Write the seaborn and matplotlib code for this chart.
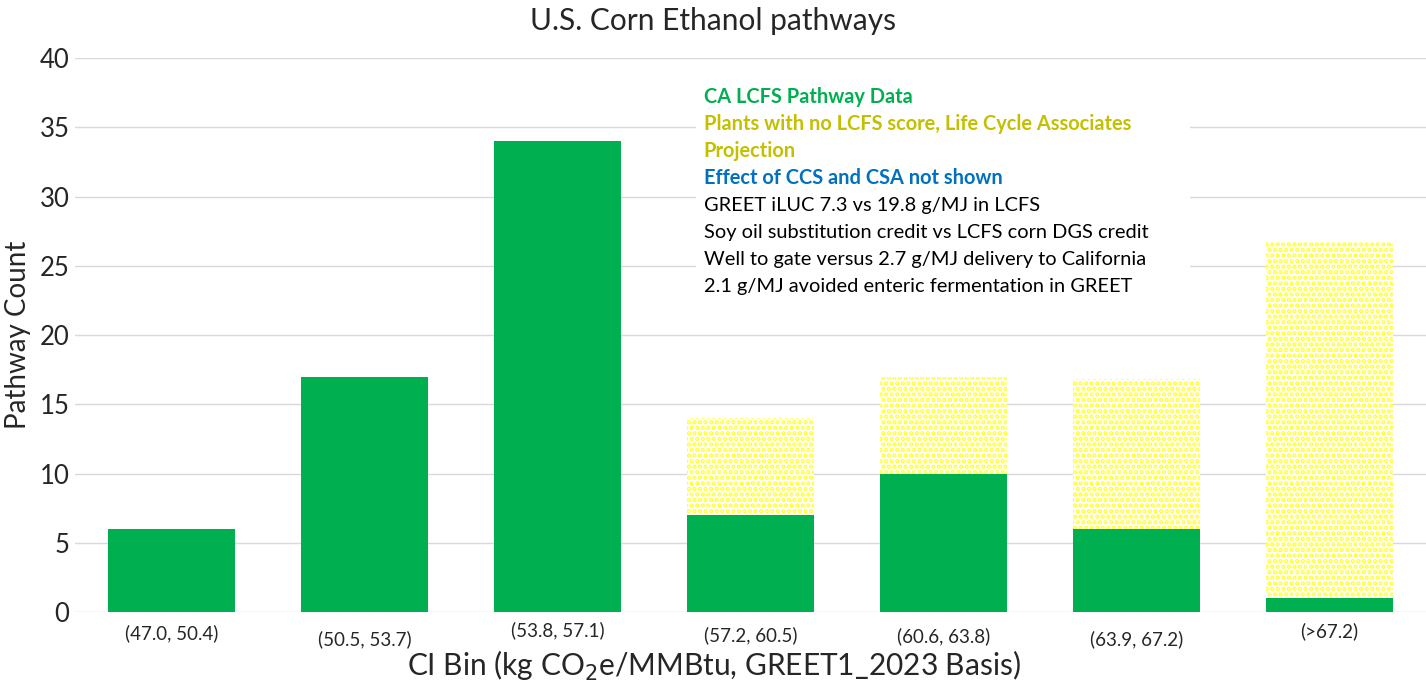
import pandas as pd
import matplotlib.pyplot as plt
import matplotlib.transforms as mtransforms
import seaborn as sns

# data
bins = ['(47.0, 50.4)', '(50.5, 53.7)', '(53.8, 57.1)', '(57.2, 60.5)',
        '(60.6, 63.8)', '(63.9, 67.2)', '(>67.2)']
lcfs_counts = [6, 17, 34, 7, 10, 6, 1]
projected_counts = [0, 0, 0, 7, 7, 10.8, 25.7]

df = pd.DataFrame({'bin': bins, 'lcfs': lcfs_counts, 'proj': projected_counts})
df['total'] = df['lcfs'] + df['proj']

sns.set_style('white')
plt.rcParams['font.family'] = ['Lato', 'DejaVu Sans']
plt.rcParams['hatch.linewidth'] = 2.2

fig = plt.figure(figsize=(14.26, 6.91), dpi=100)
ax = fig.add_axes([0.0526, 0.1143, 0.9474, 0.8017])

# total (projection) bars with yellow dotted fill, green LCFS bars on top
sns.barplot(data=df, x='bin', y='total', ax=ax, color='white', width=0.66,
            edgecolor='#FFFF33', linewidth=0, hatch='...', saturation=1)
sns.barplot(data=df, x='bin', y='lcfs', ax=ax, color='#00B050', width=0.66,
            linewidth=0, saturation=1)

ax.set_ylim(0, 40)
ax.set_xlim(-0.5, 6.5)
ax.set_yticks(range(0, 41, 5))
ax.yaxis.grid(True, color='#D9D9D9', linewidth=1)
ax.set_axisbelow(True)
sns.despine(ax=ax, left=True, bottom=True)
ax.tick_params(axis='y', labelsize=18.5, length=0, pad=4)
ax.tick_params(axis='x', labelsize=13.5, length=0, pad=9)

# the category labels sit at slightly uneven heights in the original
shifts = [0, -6, 3, -2, -3, -6, 2]
for lab, dy in zip(ax.get_xticklabels(), shifts):
    lab.set_transform(lab.get_transform() +
                      mtransforms.ScaledTranslation(0, dy / 100, fig.dpi_scale_trans))

fig.suptitle('U.S. Corn Ethanol pathways', fontsize=21.5, x=0.5, y=0.99, va='top')
ax.set_ylabel('Pathway Count', fontsize=20, labelpad=6)
ax.set_xlabel('CI Bin (kg CO$_2$e/MMBtu, GREET1_2023 Basis)', fontsize=21.5, labelpad=0)
ax.xaxis.label.set_x(0.473)

# note box
lines = [
    ('CA LCFS Pathway Data', '#00B050', 'bold'),
    ('Plants with no LCFS score, Life Cycle Associates', '#C4C000', 'bold'),
    ('Projection', '#C4C000', 'bold'),
    ('Effect of CCS and CSA not shown', '#0070C0', 'bold'),
    ('GREET iLUC 7.3 vs 19.8 g/MJ in LCFS', 'black', 'normal'),
    ('Soy oil substitution credit vs LCFS corn DGS credit', 'black', 'normal'),
    ('Well to gate versus 2.7 g/MJ delivery to California', 'black', 'normal'),
    ('2.1 g/MJ avoided enteric fermentation in GREET', 'black', 'normal'),
]
box = plt.Rectangle((2.72, 22.5), 2.555, 15.8, facecolor='white',
                    edgecolor='none', zorder=3)
ax.add_patch(box)
for i, (txt, col, wt) in enumerate(lines):
    ax.text(2.757, 37.18 - i * 1.95, txt, color=col, fontweight=wt,
            fontsize=14.4, va='center', ha='left', zorder=4)

fig.savefig('out.png', dpi=100)
